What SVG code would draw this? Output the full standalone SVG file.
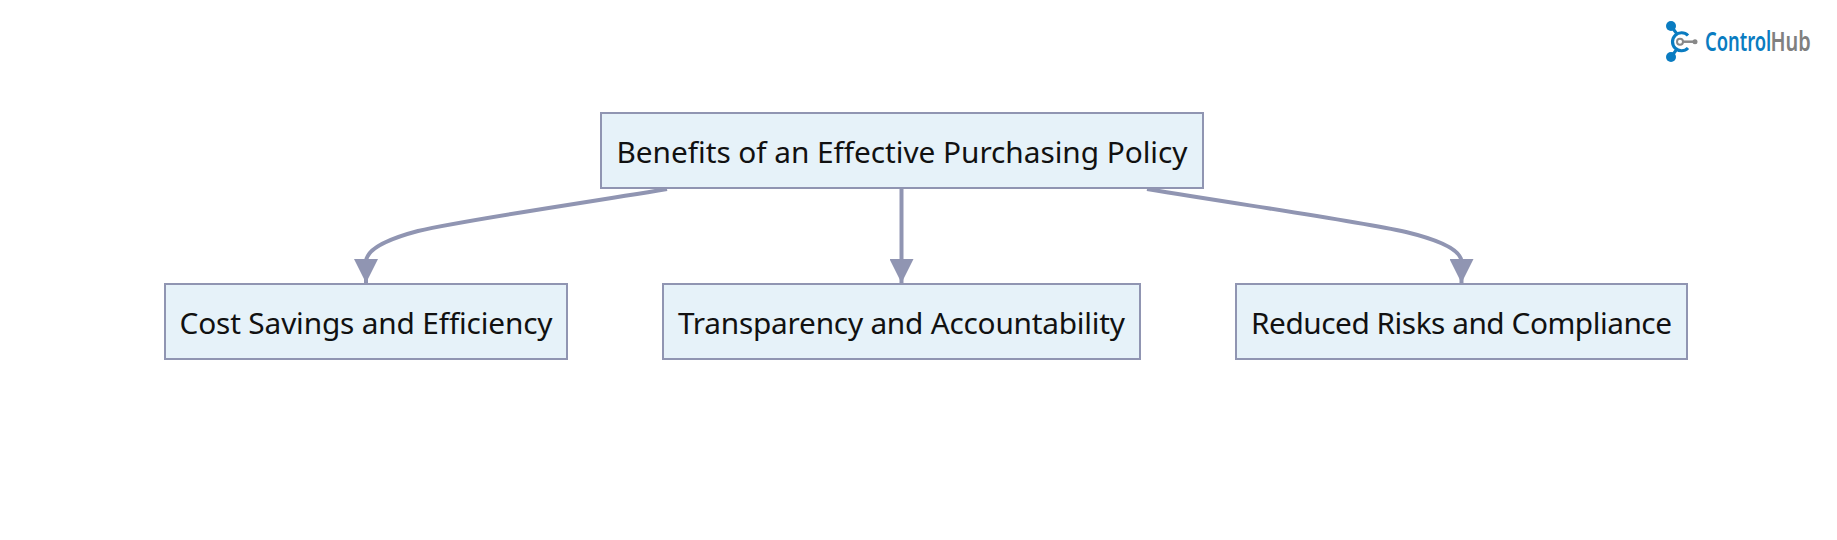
<svg xmlns="http://www.w3.org/2000/svg" width="1837" height="540" viewBox="0 0 1837 540">
<style>
.box{fill:#e6f2f9;stroke:#9095b2;stroke-width:2}
.lbl{font-family:"Noto Sans","Open Sans",sans-serif;font-size:29.800px;fill:#111;text-anchor:middle;font-variant-ligatures:none}
.edge{fill:none;stroke:#9095b2;stroke-width:4}
.head{fill:#9095b2}
.logo{font-family:"Noto Sans","Liberation Sans",sans-serif;font-size:27px;font-weight:600}
</style>
<defs><marker id="arrow" markerUnits="userSpaceOnUse" markerWidth="24" markerHeight="24" refX="24" refY="12" orient="auto"><path class="head" d="M0 0L24 12L0 24Z"/></marker></defs>
<rect width="1837" height="540" fill="#fff"/>
<g id="connectors">
<path class="edge" marker-end="url(#arrow)" d="M667 189C565 206 465 220 418 231C384 240 366 250 366 262L366 283"/>
<path class="edge" marker-end="url(#arrow)" d="M901.500 188V283"/>
<path class="edge" marker-end="url(#arrow)" d="M1147 189C1250 206 1350 220 1406 232C1443 241 1461.500 251 1461.500 262L1461.500 283"/>
</g>
<g id="n-root"><rect class="box" x="601" y="113" width="602" height="75"/><text class="lbl" x="902" y="163" textLength="571">Benefits of an Effective Purchasing Policy</text></g>
<g id="n-cost"><rect class="box" x="165" y="284" width="402" height="75"/><text class="lbl" x="366" y="334" textLength="373">Cost Savings and Efficiency</text></g>
<g id="n-trans"><rect class="box" x="663" y="284" width="477" height="75"/><text class="lbl" x="901.500" y="334" textLength="447">Transparency and Accountability</text></g>
<g id="n-risk"><rect class="box" x="1236" y="284" width="451" height="75"/><text class="lbl" x="1461.500" y="334" textLength="421">Reduced Risks and Compliance</text></g>
<g id="logo">
<path d="M1671 26L1677 34M1671 57L1677 49" stroke="#0a7cc1" stroke-width="3" fill="none"/>
<path d="M1688 35.500A9 9 0 1 0 1688 48" stroke="#0a7cc1" stroke-width="3.200" fill="none"/>
<circle cx="1671" cy="26" r="5" fill="#0a7cc1"/><circle cx="1671" cy="57" r="5" fill="#0a7cc1"/>
<circle cx="1680" cy="41.700" r="3" fill="none" stroke="#888" stroke-width="2"/>
<path d="M1682 41.700H1695" stroke="#888" stroke-width="2.500"/><circle cx="1695" cy="41.700" r="2.500" fill="#888"/>
<text class="logo" transform="translate(1705 51) scale(.68 1)" fill="#0a7cc1">Control</text>
<text class="logo" transform="translate(1770.500 51) scale(.74 1)" fill="#808080">Hub</text>
</g>
</svg>
